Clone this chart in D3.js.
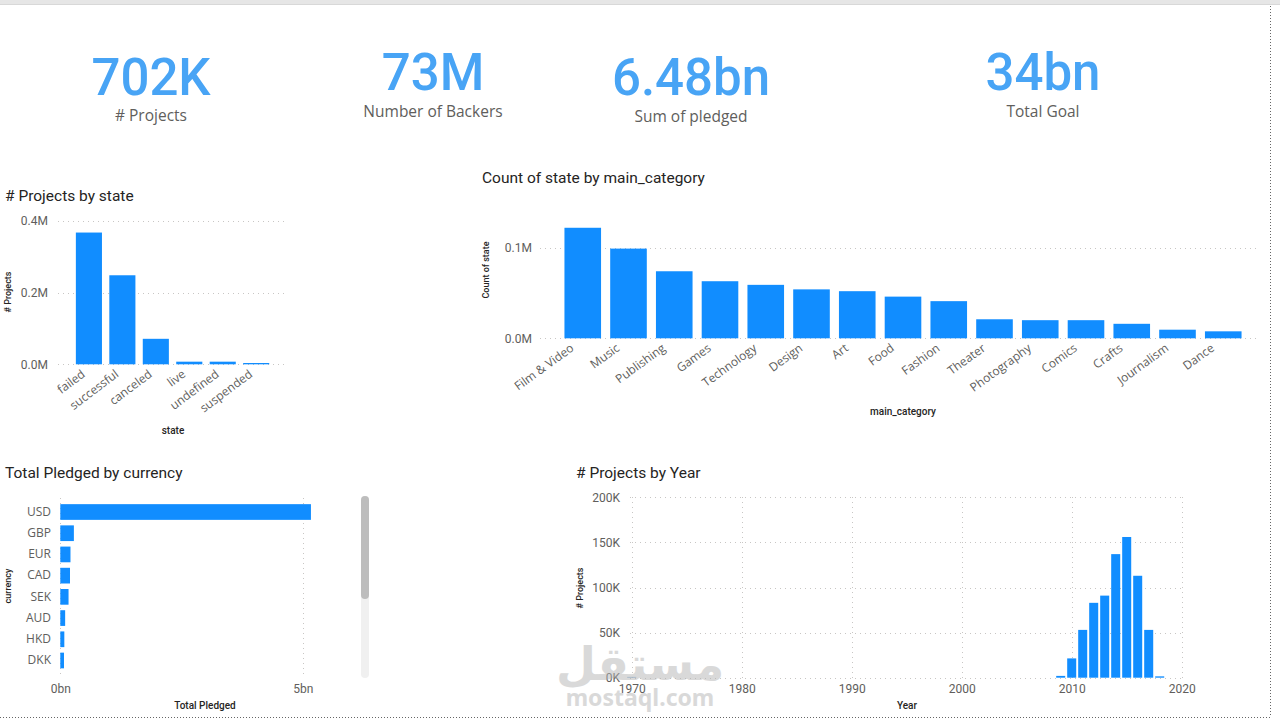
<!DOCTYPE html>
<html>
<head>
<meta charset="utf-8">
<script src="https://cdn.jsdelivr.net/npm/d3@7"></script>
<style>
  body { margin: 0; background: #fff; }
  svg { display: block; }
  .tick text { fill: #605E5C; }
</style>
</head>
<body>
<svg id="page" width="1280" height="724"></svg>
<script>
// ---------------------------------------------------------------------
// Data
const kpiValues = ["702K", "73M", "6.48bn", "34bn"];
const kpiLabels = ["# Projects", "Number of Backers", "Sum of pledged", "Total Goal"];

const states = ["failed", "successful", "canceled", "live", "undefined", "suspended"];
const stateCounts = [367000, 248000, 71000, 7300, 7300, 3600];

const categories = ["Film & Video", "Music", "Publishing", "Games", "Technology", "Design", "Art",
    "Food", "Fashion", "Theater", "Photography", "Comics", "Crafts", "Journalism", "Dance"];
const categoryCounts = [122000, 99000, 74000, 63000, 59000, 54000, 52000,
    46000, 41000, 21000, 20000, 20000, 16000, 9500, 7700];

const currencies = ["USD", "GBP", "EUR", "CAD", "SEK", "AUD", "HKD", "DKK"];
const pledged = [5.17e9, 0.28e9, 0.21e9, 0.2e9, 0.17e9, 0.1e9, 0.083e9, 0.076e9];

const years = [1970, 2009, 2010, 2011, 2012, 2013, 2014, 2015, 2016, 2017, 2018];
const yearCounts = [900, 2000, 21400, 53000, 83000, 91000, 137000, 156000, 113000, 53000, 1500];

const BAR = "#118DFF";
const TITLE_FONT = "Roboto, 'DejaVu Sans', sans-serif";
const LABEL_FONT = "'Open Sans', 'Noto Sans', sans-serif";

const svg = d3.select("#page");

// ---------------------------------------------------------------------
// Frame: top strip, dotted borders
svg.append("rect").attr("x", 0).attr("y", 0).attr("width", 1280).attr("height", 4).attr("fill", "#E6E6E6");
svg.append("line").attr("x1", 0).attr("x2", 1280).attr("y1", 4.5).attr("y2", 4.5)
    .attr("stroke", "#D8D8D8").attr("stroke-width", 1);
svg.append("line").attr("x1", 1270.5).attr("x2", 1270.5).attr("y1", 6).attr("y2", 717)
    .attr("stroke", "#666").attr("stroke-dasharray", "1,2");
svg.append("line").attr("x1", 0).attr("x2", 1271).attr("y1", 717.5).attr("y2", 717.5)
    .attr("stroke", "#666").attr("stroke-dasharray", "1,2");

// ---------------------------------------------------------------------
// KPI cards
const kpiPos = [[151, 95, 117], [433, 90, 113], [691, 95, 118], [1043, 90, 113]];
kpiValues.forEach((v, i) => {
    const [cx, vy, ly] = kpiPos[i];
    svg.append("text").attr("x", cx).attr("y", vy).attr("text-anchor", "middle")
        .attr("font-family", TITLE_FONT).attr("font-weight", 500).attr("font-size", 51)
        .attr("fill", "#48A4F5").text(v);
    svg.append("text").attr("x", cx).attr("y", ly).attr("text-anchor", "middle")
        .attr("dominant-baseline", "middle")
        .attr("font-family", LABEL_FONT).attr("font-size", 15.5)
        .attr("fill", "#605E5C").text(kpiLabels[i]);
});

// ---------------------------------------------------------------------
// Helpers
function title(x, y, txt) {
    svg.append("text").attr("x", x).attr("y", y).attr("dominant-baseline", "middle")
        .attr("font-family", TITLE_FONT).attr("font-size", 15.5).attr("fill", "#252423").text(txt);
}

function axisTitle(x, y, txt, rotate) {
    svg.append("text")
        .attr("transform", `translate(${x},${y})` + (rotate ? " rotate(-90)" : ""))
        .attr("text-anchor", "middle").attr("dominant-baseline", "middle")
        .attr("font-family", TITLE_FONT).attr("font-weight", 500).attr("font-size", rotate ? 9 : 10)
        .attr("fill", "#252423").text(txt);
}

function styleAxis(g, size) {
    g.select(".domain").remove();
    g.selectAll(".tick line").remove();
    g.selectAll(".tick text").attr("font-family", TITLE_FONT).attr("font-size", size).attr("fill", "#605E5C");
}

function hGrid(g, y, ticks, x0, x1) {
    g.selectAll(null).data(ticks).join("line")
        .attr("x1", x0).attr("x2", x1)
        .attr("y1", d => Math.round(y(d)) + 0.5).attr("y2", d => Math.round(y(d)) + 0.5)
        .attr("stroke", "#C8C6C4").attr("stroke-dasharray", "1,4");
}

function vGrid(g, x, ticks, y0, y1) {
    g.selectAll(null).data(ticks).join("line")
        .attr("y1", y0).attr("y2", y1)
        .attr("x1", d => Math.round(x(d)) + 0.5).attr("x2", d => Math.round(x(d)) + 0.5)
        .attr("stroke", "#C8C6C4").attr("stroke-dasharray", "1,4");
}

const fmtM = d => (d / 1e6).toFixed(1) + "M";

// ---------------------------------------------------------------------
// # Projects by state
{
    title(5, 197, "# Projects by state");
    const g = svg.append("g");
    const x = d3.scaleBand().domain(states).range([68.5, 276.6]).padding(0.22);
    const y = d3.scaleLinear().domain([0, 400000]).range([364.3, 220.7]);
    const ticks = [0, 200000, 400000];
    hGrid(g, y, ticks, 58, 288);
    g.selectAll("rect").data(states).join("rect")
        .attr("x", d => x(d)).attr("width", x.bandwidth())
        .attr("y", (d, i) => y(stateCounts[i])).attr("height", (d, i) => y(0) - y(stateCounts[i]))
        .attr("fill", BAR);
    g.append("g").attr("transform", "translate(48,0)")
        .call(d3.axisLeft(y).tickValues(ticks).tickFormat(fmtM).tickSize(0).tickPadding(0))
        .call(a => styleAxis(a, 12));
    g.selectAll(".xlab").data(states).join("text")
        .attr("transform", d => `translate(${x(d) + x.bandwidth() / 2 - 8},${369}) rotate(-37)`)
        .attr("text-anchor", "end").attr("dy", "0.7em")
        .attr("font-family", LABEL_FONT).attr("font-size", 12).attr("fill", "#605E5C")
        .text(d => d);
    axisTitle(9, 292, "# Projects", true);
    axisTitle(173, 431, "state", false);
}

// ---------------------------------------------------------------------
// Count of state by main_category
{
    title(482, 179, "Count of state by main_category");
    const g = svg.append("g");
    const x = d3.scaleBand().domain(categories).range([555.3, 1250.7]).padding(0.2);
    const y = d3.scaleLinear().domain([0, 100000]).range([338.3, 247.7]);
    const ticks = [0, 100000];
    hGrid(g, y, ticks, 540, 1256);
    g.selectAll("rect").data(categories).join("rect")
        .attr("x", d => x(d)).attr("width", x.bandwidth())
        .attr("y", (d, i) => y(categoryCounts[i])).attr("height", (d, i) => y(0) - y(categoryCounts[i]))
        .attr("fill", BAR);
    g.append("g").attr("transform", "translate(532,0)")
        .call(d3.axisLeft(y).tickValues(ticks).tickFormat(fmtM).tickSize(0).tickPadding(0))
        .call(a => styleAxis(a, 12));
    g.selectAll(".xlab").data(categories).join("text")
        .attr("transform", d => `translate(${x(d) + x.bandwidth() / 2 - 13},${343}) rotate(-36)`)
        .attr("text-anchor", "end").attr("dy", "0.7em")
        .attr("font-family", LABEL_FONT).attr("font-size", 12).attr("fill", "#605E5C")
        .text(d => d);
    axisTitle(487, 270, "Count of state", true);
    axisTitle(903, 412, "main_category", false);
}

// ---------------------------------------------------------------------
// Total Pledged by currency
{
    title(5, 474, "Total Pledged by currency");
    const g = svg.append("g");
    const y = d3.scaleBand().domain(currencies).range([501.4, 671.1]).paddingInner(0.26).paddingOuter(0.13);
    const x = d3.scaleLinear().domain([0, 5e9]).range([60.3, 302.7]);
    const ticks = [0, 5e9];
    vGrid(g, x, ticks, 498, 677);
    g.selectAll("rect").data(currencies).join("rect")
        .attr("y", d => y(d)).attr("height", y.bandwidth())
        .attr("x", x(0)).attr("width", (d, i) => x(pledged[i]) - x(0))
        .attr("fill", BAR);
    g.append("g").attr("transform", "translate(51,0)")
        .call(d3.axisLeft(y).tickSize(0).tickPadding(0))
        .call(a => styleAxis(a, 12))
        .call(a => a.selectAll(".tick text").attr("font-family", LABEL_FONT));
    g.append("g").attr("transform", "translate(0,684)")
        .call(d3.axisBottom(x).tickValues(ticks).tickFormat(d => d / 1e9 + "bn").tickSize(0).tickPadding(0))
        .call(a => styleAxis(a, 12));
    // scrollbar
    svg.append("rect").attr("x", 361).attr("y", 496).attr("width", 8).attr("height", 182)
        .attr("rx", 4).attr("fill", "#F0F0F0");
    svg.append("rect").attr("x", 361).attr("y", 496).attr("width", 8).attr("height", 103)
        .attr("rx", 4).attr("fill", "#BDBDBD");
    axisTitle(9, 586, "currency", true);
    axisTitle(205, 706, "Total Pledged", false);
}

// ---------------------------------------------------------------------
// # Projects by Year
{
    title(576, 474, "# Projects by Year");
    const g = svg.append("g");
    const x = d3.scaleLinear().domain([1970, 2020]).range([631.7, 1181.7]);
    const y = d3.scaleLinear().domain([0, 200000]).range([677.7, 497.3]);
    const yTicks = d3.range(0, 200001, 50000);
    const xTicks = d3.range(1970, 2021, 10);
    hGrid(g, y, yTicks, 630, 1185);
    vGrid(g, x, xTicks, 497, 678);
    const bw = (x(1971) - x(1970)) * 0.82;
    g.selectAll("rect").data(years).join("rect")
        .attr("x", d => x(d) - bw / 2).attr("width", bw)
        .attr("y", (d, i) => y(yearCounts[i])).attr("height", (d, i) => y(0) - y(yearCounts[i]))
        .attr("fill", (d, i) => i === 0 ? "#8FB5DA" : BAR);
    g.append("g").attr("transform", "translate(620,0)")
        .call(d3.axisLeft(y).tickValues(yTicks).tickFormat(d => d / 1000 + "K").tickSize(0).tickPadding(0))
        .call(a => styleAxis(a, 12));
    g.append("g").attr("transform", "translate(0,684)")
        .call(d3.axisBottom(x).tickValues(xTicks).tickFormat(d3.format("d")).tickSize(0).tickPadding(0))
        .call(a => styleAxis(a, 12));
    axisTitle(581, 588, "# Projects", true);
    axisTitle(907, 706, "Year", false);
}

// ---------------------------------------------------------------------
// Watermark
svg.append("text").attr("x", 640).attr("y", 680).attr("text-anchor", "middle")
    .attr("font-family", "'Noto Sans', 'DejaVu Sans', sans-serif").attr("font-weight", 700)
    .attr("font-size", 46).attr("fill", "#B4B4B4").attr("opacity", 0.5).text("مستقل");
svg.append("text").attr("x", 640).attr("y", 706).attr("text-anchor", "middle")
    .attr("font-family", "'Noto Sans', 'DejaVu Sans', sans-serif").attr("font-weight", 700)
    .attr("font-size", 23).attr("fill", "#B4B4B4").attr("opacity", 0.5).text("mostaql.com");
</script>
</body>
</html>
